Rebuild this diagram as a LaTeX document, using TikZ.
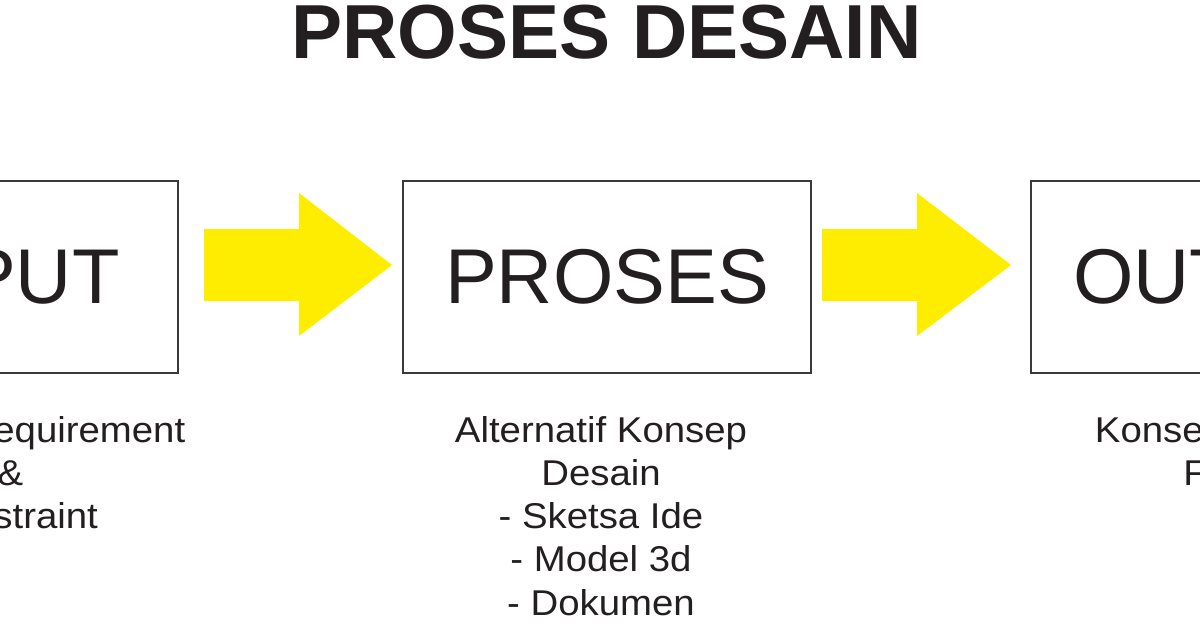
\documentclass[tikz,border=0pt]{standalone}
\usepackage{fontspec}
\setmainfont{Liberation Sans}
\newfontfamily\notefont[FakeStretch=1.07]{Liberation Sans}
\definecolor{inkblack}{HTML}{231F20}
\definecolor{arrowyellow}{HTML}{FFED00}
\definecolor{framegray}{HTML}{3A3A3A}

\begin{document}
\begin{tikzpicture}[x=0.02cm,y=-0.02cm,
        every node/.style={inner sep=0pt,outer sep=0pt,text=inkblack},
        stagebox/.style={draw=framegray,line width=0.8pt,minimum height=3.84cm,font=\fontsize{44.2}{53}\selectfont},
        note/.style={align=center,font=\notefont\fontsize{20.4}{24.55}\selectfont},
        bigarrow/.style={fill=arrowyellow,draw=none}]
        \useasboundingbox (0,0) rectangle (1200,630);
        \fill [white] (0,0) rectangle (1200,630);
        \clip (0,0) rectangle (1200,630);

        \node [font=\bfseries\fontsize{43.6}{52}\selectfont, anchor=base] at (606.5,58) (title) {PROSES DESAIN};

        \node [stagebox, minimum width=7cm] at (3,277) (input) {INPUT};
        \node [stagebox, minimum width=8.16cm] at (607,277) (proses) {PROSES};
        \node [stagebox, minimum width=8.08cm] at (1233,277) (output) {OUTPUT};

        \coordinate (arrowA) at (204,265);
        \coordinate (arrowB) at (822,265);
        \fill [bigarrow] (arrowA) ++(0,-36) -- ++(95,0) -- ++(0,-36) -- ++(93,72) -- ++(-93,71) -- ++(0,-35) -- ++(-95,0) -- cycle;
        \fill [bigarrow] (arrowB) ++(0,-36) -- ++(95,0) -- ++(0,-36) -- ++(94,72) -- ++(-94,71) -- ++(0,-35) -- ++(-95,0) -- cycle;

        % base = baseline of the last line
        \node [note, anchor=base] at (10.5,528.6) (inputnote) {Design Requirement\\\&\\Constraint};
        \node [note, anchor=base] at (601,615) (prosesnote) {Alternatif Konsep\\Desain\\- Sketsa Ide\\- Model 3d\\- Dokumen};
        \node [note, anchor=base] at (1225,485.3) (outputnote) {Konsep Desain\\Final};
\end{tikzpicture}
\end{document}
